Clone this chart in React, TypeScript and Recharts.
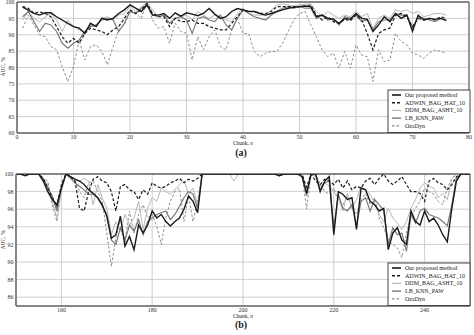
import React from "react";
import { LineChart, Line, XAxis, YAxis, CartesianGrid, ReferenceLine } from "recharts";

// ---------- Panel (a) ----------
const topChunks = Array.from({ length: 76 }, (_, i) => i + 1);
const topOurs = [
  98.4, 97.5, 96.5, 96.0, 96.7, 96.7, 95.5, 94.5, 93.5, 92.5,
  92.0, 90.4, 93.5, 92.5, 95.0, 94.5, 95.0, 96.5, 97.6, 99.1,
  98.1, 97.1, 99.1, 96.0, 96.0, 96.5, 95.0, 96.7, 95.7, 96.7,
  96.3, 95.8, 96.5, 98.0, 96.3, 95.0, 95.5, 97.1, 98.0, 97.6,
  97.1, 97.1, 96.5, 96.0, 96.5, 97.1, 97.6, 98.1, 98.4, 98.6,
  98.8, 98.6, 95.5, 96.0, 95.0, 94.7, 93.5, 95.0, 94.7, 96.5,
  95.0, 94.7, 91.0, 93.0, 95.5, 94.0, 96.5, 95.0, 96.0, 91.0,
  96.0, 94.5, 95.0, 94.7, 95.0, 94.3,
];
const topAdwin = [
  98.6, 98.1, 96.5, 97.0, 96.5, 95.5, 92.5, 89.4, 87.4, 88.9,
  87.4, 90.4, 92.0, 91.5, 91.0, 90.0, 91.5, 92.5, 95.0, 97.6,
  96.5, 97.6, 99.6, 96.5, 95.5, 95.5, 92.5, 95.0, 94.0, 94.0,
  94.5, 93.5, 93.5, 92.5, 92.0, 91.5, 91.5, 93.5, 95.5, 97.6,
  97.1, 97.1, 96.5, 96.5, 97.1, 98.6, 98.6, 98.6, 98.6, 98.6,
  98.8, 99.1, 96.0, 94.5, 95.5, 94.0, 93.5, 94.7, 94.3, 96.0,
  94.5, 90.4, 85.4, 90.4, 91.5, 92.0, 96.0, 96.5, 95.5, 92.5,
  95.0, 94.5, 95.0, 94.5, 95.5, 95.0,
];
const topDdm = [
  94.5, 97.1, 95.0, 94.0, 95.5, 96.5, 94.5, 91.0, 94.5, 92.5,
  91.5, 91.0, 93.0, 92.5, 95.0, 95.5, 94.5, 96.0, 96.5, 98.6,
  97.1, 98.6, 99.8, 97.6, 95.5, 96.0, 95.0, 96.5, 95.5, 96.0,
  94.5, 97.1, 96.0, 95.0, 96.0, 95.5, 94.5, 94.0, 96.5, 98.1,
  96.5, 96.0, 96.0, 96.0, 97.6, 99.1, 99.4, 99.1, 98.8, 99.1,
  99.4, 99.4, 97.1, 95.5, 97.1, 96.0, 95.0, 96.0, 95.5, 97.1,
  95.5, 96.5, 92.0, 95.0, 96.0, 95.0, 97.6, 97.1, 97.6, 96.5,
  97.1, 95.5, 96.0, 96.5, 96.5, 96.0,
];
const topLb = [
  95.5, 97.1, 94.0, 91.0, 93.5, 93.0, 91.0, 87.4, 85.9, 87.4,
  88.4, 91.0, 92.5, 93.0, 94.5, 95.0, 94.5, 91.0, 93.5, 97.1,
  96.5, 98.1, 99.1, 96.0, 95.5, 96.0, 93.5, 95.0, 95.5, 94.5,
  90.4, 95.0, 95.5, 94.5, 94.0, 96.0, 93.0, 91.5, 95.0, 97.6,
  96.5, 95.5, 95.0, 94.5, 96.0, 97.1, 98.1, 98.6, 98.1, 98.6,
  98.1, 98.1, 95.0, 96.0, 94.5, 95.0, 93.0, 95.5, 95.0, 96.0,
  94.0, 94.5, 91.5, 94.0, 94.5, 94.5, 96.5, 96.0, 96.0, 92.0,
  95.5, 95.0, 94.5, 94.0, 95.0, 94.5,
];
const topOza = [
  92.0, 96.0, 93.0, 90.0, 89.4, 86.4, 85.4, 80.3, 75.7, 80.3,
  88.4, 82.3, 86.4, 86.9, 84.9, 80.8, 86.4, 91.5, 93.0, 97.1,
  96.5, 95.0, 100, 94.5, 92.0, 92.5, 87.4, 93.5, 91.0, 90.4,
  82.3, 89.4, 85.4, 89.4, 91.5, 86.4, 85.4, 91.5, 95.0, 90.4,
  90.4, 84.9, 83.3, 84.4, 84.9, 84.9, 87.4, 91.0, 94.5, 96.5,
  97.1, 93.0, 89.4, 85.4, 83.3, 84.4, 79.8, 84.9, 79.8, 86.9,
  83.8, 83.3, 75.7, 85.4, 81.8, 82.3, 90.4, 87.9, 86.9, 84.4,
  83.8, 82.8, 84.4, 85.4, 84.9, 84.4,
];
const topXTicks = [0, 10, 20, 30, 40, 50, 60, 70, 80];
const topYTicks = [60, 65, 70, 75, 80, 85, 90, 95, 100];

// ---------- Panel (b) ----------
const botChunks = Array.from({ length: 101 }, (_, i) => 150 + i);
const botOurs = [
  100, 100, 99.8, 100, 100, 100, 99.2, 98.0, 97.1, 96.5,
  98.4, 100, 99.7, 99.4, 99.2, 98.8, 98.2, 97.8, 97.3, 96.5,
  95.2, 92.7, 93.1, 95.2, 91.8, 92.9, 91.4, 94.2, 93.3, 94.2,
  95.8, 95.0, 95.4, 94.6, 94.1, 94.6, 95.0, 96.0, 97.5, 96.9,
  95.6, 100, 100, 100, 100, 100, 100, 100, 100, 100,
  100, 100, 100, 100, 100, 100, 100, 100, 99.8, 100,
  100, 100, 100, 99.7, 97.8, 100, 100, 98.0, 99.2, 99.7,
  93.1, 98.0, 97.7, 97.1, 97.3, 93.7, 98.4, 98.2, 96.9, 96.5,
  95.8, 96.1, 91.4, 93.3, 93.9, 92.5, 92.0, 95.8, 94.6, 94.2,
  95.8, 94.6, 95.0, 94.2, 93.1, 92.3, 96.1, 99.2, 100, 100,
  100,
];
const botAdwin = [
  100, 100, 100, 100, 100, 100, 99.5, 98.4, 97.3, 96.3,
  98.8, 100, 99.7, 99.2, 96.1, 95.8, 98.0, 99.4, 99.7, 99.2,
  99.0, 98.0, 95.8, 98.6, 98.8, 98.2, 98.0, 97.1, 98.2, 97.7,
  99.0, 98.6, 98.4, 98.6, 99.0, 99.2, 99.5, 99.0, 99.4, 99.2,
  99.5, 100, 100, 100, 100, 100, 100, 100, 100, 100,
  100, 100, 100, 100, 100, 100, 100, 100, 100, 100,
  100, 100, 100, 100, 98.5, 100, 99.2, 98.8, 99.4, 99.2,
  98.8, 99.4, 98.4, 99.2, 98.2, 98.6, 98.4, 99.2, 99.5, 98.8,
  99.5, 100, 99.2, 98.8, 99.2, 99.7, 98.8, 98.0, 98.0, 97.8,
  96.9, 99.2, 99.5, 99.0, 98.8, 98.2, 98.8, 99.7, 100, 100,
  100,
];
const botDdm = [
  100, 100, 100, 100, 100, 100, 99.4, 98.8, 96.9, 95.0,
  98.0, 100, 99.7, 99.5, 99.2, 99.5, 99.2, 96.5, 98.8, 97.3,
  96.1, 93.1, 94.6, 93.5, 95.4, 94.2, 95.0, 96.9, 93.7, 96.1,
  97.3, 96.9, 98.4, 98.0, 97.7, 98.2, 98.8, 99.2, 97.8, 98.4,
  96.5, 100, 100, 100, 100, 100, 100, 100, 99.2, 100,
  100, 100, 100, 100, 100, 100, 100, 100, 100, 100,
  100, 100, 100, 100, 98.0, 100, 99.7, 98.6, 99.0, 98.6,
  98.0, 97.3, 95.8, 97.8, 96.1, 97.1, 98.6, 98.2, 97.7, 96.7,
  95.4, 94.6, 96.1, 95.0, 94.4, 93.7, 94.6, 96.1, 97.1, 98.4,
  99.0, 98.6, 98.4, 97.3, 97.8, 97.1, 99.4, 100, 100, 100,
  100,
];
const botLb = [
  100, 100, 100, 100, 100, 100, 99.5, 98.4, 97.5, 95.8,
  98.4, 100, 99.5, 99.0, 98.6, 98.2, 97.7, 97.7, 97.3, 96.3,
  95.4, 92.5, 92.0, 93.9, 92.5, 94.2, 93.5, 94.8, 93.1, 94.6,
  95.0, 95.4, 95.6, 95.8, 94.8, 95.4, 96.3, 97.3, 98.0, 97.7,
  96.1, 100, 100, 100, 100, 100, 100, 100, 100, 100,
  100, 100, 100, 100, 100, 100, 100, 100, 99.8, 100,
  100, 100, 100, 100, 97.5, 100, 100, 98.2, 99.0, 99.2,
  93.9, 97.7, 96.1, 95.8, 96.5, 94.1, 96.9, 97.3, 95.8, 97.1,
  96.5, 95.9, 92.0, 93.9, 93.1, 93.3, 91.2, 95.4, 94.4, 95.8,
  96.1, 95.4, 95.2, 95.0, 94.6, 94.1, 96.5, 99.5, 100, 100,
  100,
];
const botOza = [
  100, 100, 100, 100, 100, 100, 99.5, 99.2, 96.5, 94.6,
  98.4, 100, 99.7, 99.2, 98.0, 97.3, 99.0, 99.2, 98.0, 96.9,
  93.3, 89.5, 92.7, 95.0, 92.2, 95.8, 93.3, 95.4, 96.5, 95.0,
  95.4, 94.1, 92.0, 95.0, 96.9, 98.0, 98.4, 94.6, 97.5, 94.6,
  96.9, 100, 100, 100, 100, 100, 100, 100, 100, 100,
  100, 100, 100, 100, 100, 100, 100, 100, 100, 100,
  100, 100, 100, 100, 96.0, 100, 100, 98.8, 98.0, 97.7,
  98.4, 96.9, 96.5, 97.5, 96.1, 95.4, 97.1, 97.8, 96.5, 97.3,
  95.0, 93.9, 92.5, 92.0, 91.6, 90.5, 93.3, 95.0, 96.1, 96.9,
  98.4, 98.0, 97.7, 96.9, 96.5, 98.4, 99.5, 100, 100, 100,
  100,
];
const botXTicks = [160, 180, 200, 220, 240];
const botYTicks = [86, 88, 90, 92, 94, 96, 98, 100];

const seriesNames = ["Our proposed method", "ADWIN_BAG_HAT_10", "DDM_BAG_ASHT_10", "LB_KNN_PAW", "OzaDyn"];

const topData = topChunks.map((c, i) => ({
  chunk: c, ours: topOurs[i], adwin: topAdwin[i], ddm: topDdm[i], lb: topLb[i], oza: topOza[i],
}));
const botData = botChunks.map((c, i) => ({
  chunk: c, ours: botOurs[i], adwin: botAdwin[i], ddm: botDdm[i], lb: botLb[i], oza: botOza[i],
}));

const STYLES = [
  { key: "ours", stroke: "#1a1a1a", width: 1.4, dash: undefined },
  { key: "adwin", stroke: "#1a1a1a", width: 1.2, dash: "3 2" },
  { key: "ddm", stroke: "#b8b8b8", width: 1, dash: undefined },
  { key: "lb", stroke: "#7a7a7a", width: 1.2, dash: undefined },
  { key: "oza", stroke: "#8c8c8c", width: 1, dash: "2.5 2" },
];
const DRAW_ORDER = [4, 2, 3, 1, 0];

const tickStyle = { fontFamily: "Liberation Serif", fontSize: 6, fill: "#333" };
const FRAME = "#666";

function Panel(props: any) {
  const { data, xDomain, yDomain, xTicks, yTicks, width, height, margin, yWidth } = props;
  return (
    <LineChart width={width} height={height} data={data} margin={margin}>
      <CartesianGrid stroke="#cfcfcf" strokeWidth={1} />
      <XAxis
        dataKey="chunk"
        type="number"
        domain={xDomain}
        ticks={xTicks}
        interval={0}
        allowDataOverflow
        tick={tickStyle}
        tickLine={false}
        tickSize={1}
        tickMargin={0.5}
        height={14}
        axisLine={{ stroke: FRAME, strokeWidth: 1.5 }}
      />
      <YAxis
        type="number"
        domain={yDomain}
        ticks={yTicks}
        interval={0}
        allowDataOverflow
        tick={tickStyle}
        tickLine={false}
        tickSize={1}
        tickMargin={1.5}
        width={yWidth}
        axisLine={{ stroke: FRAME, strokeWidth: 1.5 }}
      />
      <ReferenceLine y={yDomain[1]} stroke={FRAME} strokeWidth={1.6} />
      <ReferenceLine x={xDomain[1]} stroke={FRAME} strokeWidth={1.2} />
      {DRAW_ORDER.map((idx) => {
        const s = STYLES[idx];
        return (
          <Line
            key={s.key}
            type="linear"
            dataKey={s.key}
            stroke={s.stroke}
            strokeWidth={s.width}
            strokeDasharray={s.dash}
            dot={false}
            isAnimationActive={false}
          />
        );
      })}
    </LineChart>
  );
}

function LegendBox({ top }: { top: number }) {
  const left = 388;
  const w = 82;
  const rowH = 7.7;
  const h = 42.5;
  return (
    <svg
      width={w + 2}
      height={h + 2}
      style={{ position: "absolute", left: left - 1, top: top - 1, pointerEvents: "none" }}
    >
      <rect x={1} y={1} width={w} height={h} fill="#fff" stroke="#444" strokeWidth={1} />
      {seriesNames.map((name, i) => {
        const s = STYLES[i];
        const cy = 1 + 5 + i * rowH;
        return (
          <g key={name}>
            <line
              x1={5}
              x2={14}
              y1={cy}
              y2={cy}
              stroke={s.stroke}
              strokeWidth={s.width + 0.2}
              strokeDasharray={s.dash}
            />
            <text
              x={18}
              y={cy}
              dominantBaseline="central"
              fontFamily="Liberation Serif"
              fontSize={6}
              fill="#222"
            >
              {name}
            </text>
          </g>
        );
      })}
    </svg>
  );
}

function Txt(props: any) {
  const { x, y, children, size, bold, rotate } = props;
  return (
    <div
      style={{
        position: "absolute",
        left: x,
        top: y,
        transform: `translate(-50%, -50%)${rotate ? " rotate(-90deg)" : ""}`,
        fontFamily: "Liberation Serif",
        fontSize: size,
        fontWeight: bold ? "bold" : "normal",
        color: "#222",
        whiteSpace: "nowrap",
        lineHeight: 1,
      }}
    >
      {children}
    </div>
  );
}

export default function App() {
  return (
    <div style={{ position: "absolute", left: 0, top: 0, width: 474, height: 335, background: "#fff", overflow: "hidden" }}>
      <div style={{ position: "absolute", left: 0, top: 0 }}>
        <Panel
          data={topData}
          xDomain={[0, 80]}
          yDomain={[60, 100]}
          xTicks={topXTicks}
          yTicks={topYTicks}
          width={474}
          height={160}
          margin={{ top: 2, right: 5, bottom: 13, left: 0 }}
          yWidth={17}
        />
      </div>
      <div style={{ position: "absolute", left: 0, top: 160 }}>
        <Panel
          data={botData}
          xDomain={[150, 250]}
          yDomain={[85, 100]}
          xTicks={botXTicks}
          yTicks={botYTicks}
          width={474}
          height={175}
          margin={{ top: 14, right: 4, bottom: 15, left: 0 }}
          yWidth={16}
        />
      </div>
      <LegendBox top={90} />
      <LegendBox top={262.5} />
      <Txt x={4} y={67} size={5.5} rotate>AUC, %</Txt>
      <Txt x={4} y={240} size={5.5} rotate>AUC, %</Txt>
      <Txt x={243} y={143.5} size={5.5}>Chunk, <i>n</i></Txt>
      <Txt x={243} y={316.5} size={5.5}>Chunk, <i>n</i></Txt>
      <Txt x={241} y={152.5} size={10} bold>(a)</Txt>
      <Txt x={241} y={324.5} size={10} bold>(b)</Txt>
    </div>
  );
}
